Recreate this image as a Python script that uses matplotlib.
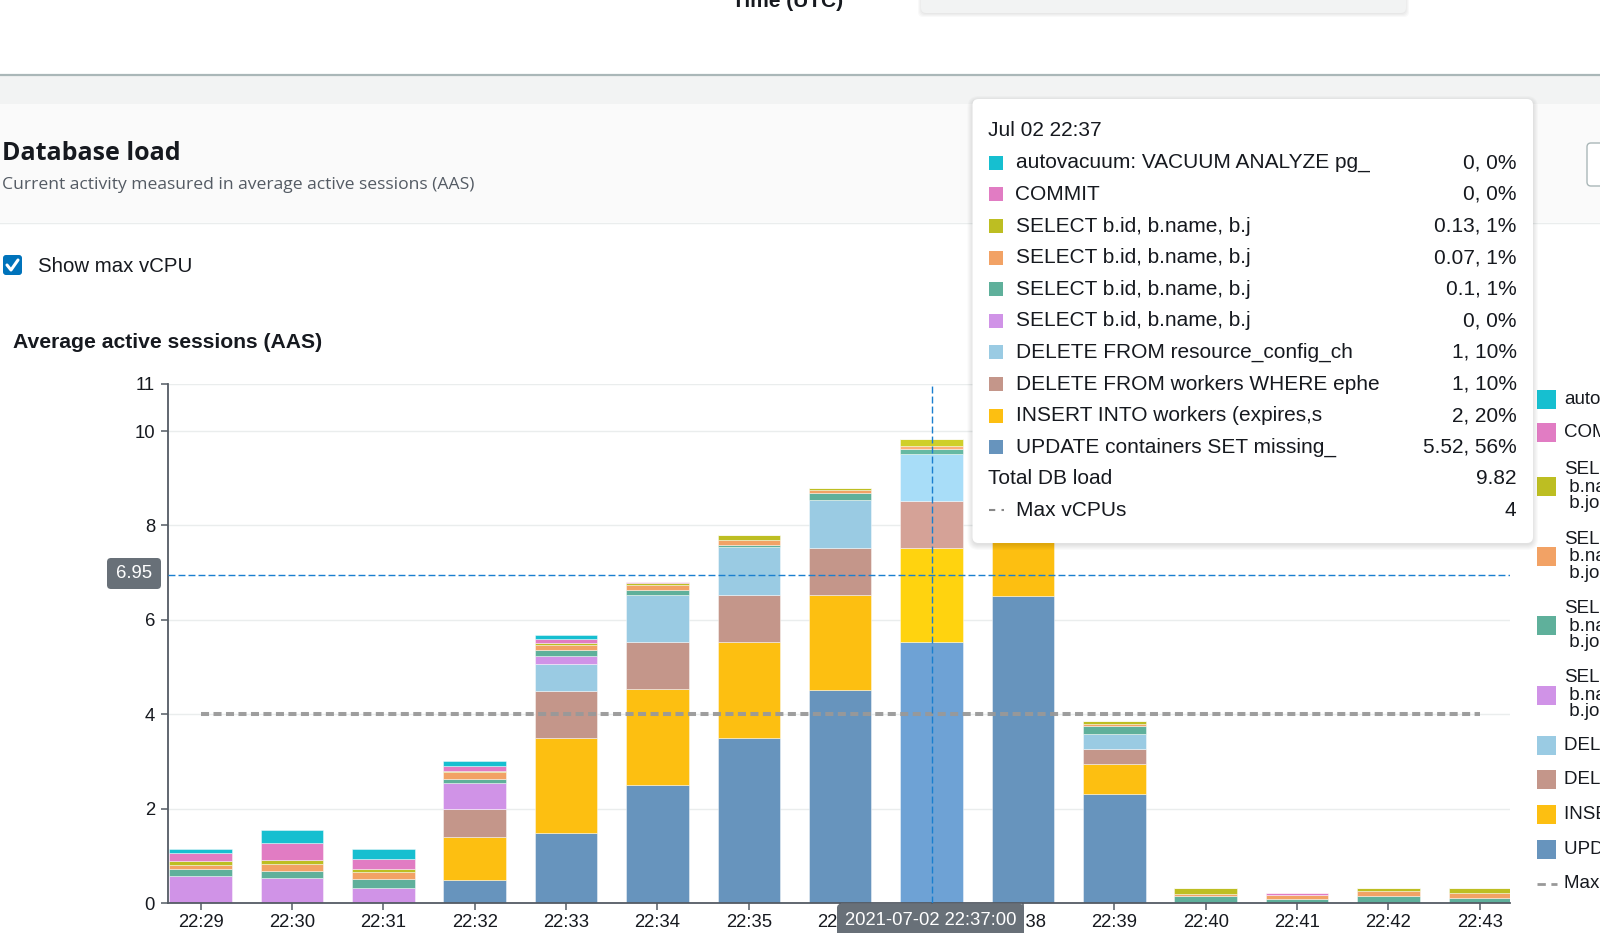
import numpy as np
import matplotlib.pyplot as plt
from matplotlib.patches import Rectangle, FancyBboxPatch

W, H = 1600, 933

times = ['22:29', '22:30', '22:31', '22:32', '22:33', '22:34', '22:35', '22:36',
         '22:37', '22:38', '22:39', '22:40', '22:41', '22:42', '22:43']

# stacked from the bottom up
update = [0, 0, 0, 0.49, 1.49, 2.51, 3.50, 4.52, 5.52, 6.50, 2.31, 0, 0, 0, 0]
insert = [0, 0, 0, 0.91, 2.01, 2.02, 2.03, 2.01, 2, 2.0, 0.64, 0, 0, 0, 0]
del_workers = [0, 0, 0, 0.60, 0.99, 0.99, 1.0, 1.0, 1, 1.0, 0.31, 0, 0, 0, 0]
del_resource = [0, 0, 0, 0, 0.57, 1.01, 1.01, 1.01, 1, 1.0, 0.33, 0, 0, 0, 0]
select4 = [0.57, 0.54, 0.31, 0.54, 0.18, 0, 0, 0, 0, 0, 0, 0, 0, 0, 0]
select3 = [0.15, 0.13, 0.19, 0.09, 0.12, 0.10, 0.05, 0.14, 0.1, 0.10, 0.17, 0.14, 0.08, 0.14, 0.10]
select2 = [0.085, 0.155, 0.155, 0.14, 0.10, 0.11, 0.11, 0.06, 0.07, 0.07, 0.04, 0.06, 0.08, 0.12, 0.11]
select1 = [0.09, 0.08, 0.056, 0.03, 0.04, 0.04, 0.09, 0.06, 0.13, 0.10, 0.06, 0.11, 0.02, 0.05, 0.10]
commit = [0.155, 0.36, 0.226, 0.10, 0.09, 0.02, 0.01, 0, 0, 0, 0, 0, 0.03, 0, 0]
autovac = [0.10, 0.28, 0.21, 0.10, 0.09, 0, 0, 0, 0, 0, 0, 0, 0, 0, 0]

series = [update, insert, del_workers, del_resource, select4, select3, select2, select1, commit, autovac]
names = ['UPDATE containers SET missing_', 'INSERT INTO workers (expires,s',
         'DELETE FROM workers WHERE ephe', 'DELETE FROM resource_config_ch',
         'SELECT b.id, b.name, b.j', 'SELECT b.id, b.name, b.j',
         'SELECT b.id, b.name, b.j', 'SELECT b.id, b.name, b.j',
         'COMMIT', 'autovacuum: VACUUM ANALYZE pg_']
legend_names = ['UPDATE containers', 'INSERT INTO workers', 'DELETE FROM workers',
                'DELETE FROM resource', 'SELECT\n b.name,\n b.join', 'SELECT\n b.name,\n b.join',
                'SELECT\n b.name,\n b.join', 'SELECT\n b.name,\n b.join', 'COMMIT', 'autovacuum']
colors = ['#6794bd', '#fdbf11', '#c4968a', '#9acbe3', '#d093e7', '#5fb09b',
          '#f2a265', '#bdbe22', '#e17cc3', '#16bfd0']
hl_colors = ['#6ea2d5', '#ffd30f', '#d5a297', '#a8ddf8', '#e0a3f5', '#66b9a3',
             '#fbaf7a', '#cfcf2a', '#f08ad2', '#20cfe0']
max_vcpu = 4
cursor_y = 6.95
sel = 8

SANS = 'Liberation Sans'
UI = 'Open Sans'
TIP = 15

fig = plt.figure(figsize=(W / 100, H / 100), dpi=100)

# page background (pixel coords)
bg = fig.add_axes([0, 0, 1, 1], zorder=0)
bg.set_xlim(0, W); bg.set_ylim(H, 0); bg.axis('off')
bg.add_patch(Rectangle((0, 76), W, 28, color='#f2f3f3', lw=0))
bg.add_patch(Rectangle((0, 104), W, 118, color='#fafafa', lw=0))
bg.plot([0, W], [74.5, 74.5], color='#aab7b8', lw=1.6)
bg.plot([0, W], [222.5, 222.5], color='#eaeded', lw=1)
for k in range(4):
    bg.add_patch(FancyBboxPatch((921 - k, -10), 485 + 2 * k, 24 + k, boxstyle='round,pad=0,rounding_size=5',
                                color='#000000', alpha=0.025, lw=0))
bg.add_patch(FancyBboxPatch((921, -10), 485, 23, boxstyle='round,pad=0,rounding_size=5',
                            color='#f2f3f3', lw=0))
bg.text(788, 7, 'Time (UTC)', ha='center', va='baseline', fontsize=15, fontweight='bold',
        family=SANS, color='#16191f')
bg.text(2, 153, 'Database load', ha='left', va='center', fontsize=18, fontweight='bold',
        family=UI, color='#16191f')
bg.text(2, 185, 'Current activity measured in average active sessions (AAS)', ha='left',
        va='center', fontsize=12.6, family=UI, color='#545b64')
bg.add_patch(FancyBboxPatch((1587, 143), 40, 43, boxstyle='round,pad=0,rounding_size=4',
                            facecolor='white', edgecolor='#aab7b8', lw=1))
bg.add_patch(FancyBboxPatch((3, 255), 19, 20, boxstyle='round,pad=0,rounding_size=3',
                            color='#0073bb', lw=0))
bg.plot([7, 11, 18], [265, 270, 260], color='white', lw=2.2, solid_capstyle='round')
bg.text(38, 266, 'Show max vCPU', ha='left', va='center', fontsize=14.7, family=SANS, color='#16191f')
bg.text(13, 342, 'Average active sessions (AAS)', ha='left', va='center', fontsize=15.2,
        fontweight='bold', family=SANS, color='#16191f')

# right legend, clipped by the page edge
leg_y = [849, 814.4, 779.7, 745, 695, 625.6, 556, 486.8, 432.7, 399]
for name, c, y in zip(legend_names, colors, leg_y):
    bg.add_patch(Rectangle((1537, y - 9.5), 19, 19, color=c, lw=0))
    bg.text(1564, y, name, ha='left', va='center', fontsize=13.5, family=SANS,
            color='#16191f', linespacing=1.0)
bg.plot([1537, 1557], [883.8, 883.8], color='#999999', lw=2, dashes=(3, 2))
bg.text(1564, 883.8, 'Max vCPUs', ha='left', va='center', fontsize=13.5, family=SANS, color='#16191f')

# chart
ax = fig.add_axes([168 / W, 30 / H, (1510 - 168) / W, 519.2 / H], zorder=1)
ax.set_facecolor('none')
x = np.arange(len(times))
bottom = np.zeros(len(times))
for s, c, hc in zip(series, colors, hl_colors):
    cols = [hc if j == sel else c for j in range(len(times))]
    ax.bar(x, s, width=0.684, bottom=bottom, color=cols, edgecolor=(1, 1, 1, 0.6), linewidth=0.5, zorder=2)
    bottom += np.array(s)
ax.set_xlim(-0.356, 14.33)
ax.set_ylim(0, 11)
ax.set_yticks([0, 2, 4, 6, 8, 10, 11])
ax.set_xticks(x, times)
ax.grid(axis='y', color='#eaeded', lw=1, zorder=0)
ax.set_axisbelow(True)
for sp in ['top', 'right']:
    ax.spines[sp].set_visible(False)
for sp in ['left', 'bottom']:
    ax.spines[sp].set_color('#545b64')
    ax.spines[sp].set_linewidth(1.3)
ax.tick_params(axis='both', length=5, width=1.1, color='#545b64', labelsize=13.3, labelcolor='#16191f')
ax.tick_params(axis='x', pad=3)
ax.tick_params(axis='y', pad=4.3)
for lab in ax.get_xticklabels() + ax.get_yticklabels():
    lab.set_family(SANS)

ax.plot([0, len(times) - 1], [max_vcpu, max_vcpu], color='#999999', lw=2.9, dashes=(2, 1.1),
        alpha=0.95, zorder=3)
ax.axhline(cursor_y, color='#1a7fcf', lw=1, dashes=(5, 2.2), zorder=4)
ax.axvline(sel, color='#1a7fcf', lw=1, dashes=(5, 2.2), zorder=4)

# overlay: cursor labels and tooltip
ov = fig.add_axes([0, 0, 1, 1], zorder=2)
ov.set_xlim(0, W); ov.set_ylim(H, 0); ov.axis('off')
ov.add_patch(FancyBboxPatch((107, 558), 54, 31, boxstyle='round,pad=0,rounding_size=4',
                            color='#687078', lw=0))
ov.text(134, 573.5, f'{cursor_y:.2f}', ha='center', va='center', fontsize=13.3, family=SANS, color='white')
ov.add_patch(FancyBboxPatch((837, 904), 187, 40, boxstyle='round,pad=0,rounding_size=4',
                            color='#687078', lw=0))
ov.text(930.5, 920.5, '2021-07-02 22:37:00', ha='center', va='center', fontsize=13.3, family=SANS, color='white')

tx0, ty0, tw, th = 972.5, 99, 560.5, 444
for k in range(6):
    ov.add_patch(FancyBboxPatch((tx0 - k, ty0 - k + 2), tw + 2 * k, th + 2 * k,
                                boxstyle='round,pad=0,rounding_size=%d' % (6 + k),
                                color='black', alpha=0.018, lw=0))
ov.add_patch(FancyBboxPatch((tx0, ty0), tw, th, boxstyle='round,pad=0,rounding_size=6',
                            color='white', lw=0))
total = sum(s[sel] for s in series)
ov.text(988, 131, 'Jul 02 ' + times[sel], ha='left', va='center', fontsize=TIP, family=SANS, color='#16191f')
row_y = 162.8
for s, c, name in list(zip(series, colors, names))[::-1]:
    v = s[sel]
    ov.add_patch(Rectangle((989, row_y - 7), 14, 14, color=c, lw=0))
    ov.text(1015.5, row_y, name, ha='left', va='center', fontsize=TIP, family=SANS, color='#16191f')
    ov.text(1516.5, row_y, f'{v:g}, {round(100 * v / total)}%', ha='right', va='center',
            fontsize=TIP, family=SANS, color='#16191f')
    row_y += 31.6
ov.text(988, row_y, 'Total DB load', ha='left', va='center', fontsize=TIP, family=SANS, color='#16191f')
ov.text(1516.5, row_y, f'{total:.2f}', ha='right', va='center', fontsize=TIP, family=SANS, color='#16191f')
row_y += 31.6
ov.plot([989, 1004], [row_y, row_y], color='#888888', lw=1.5, dashes=(3, 3))
ov.text(1015.5, row_y, 'Max vCPUs', ha='left', va='center', fontsize=TIP, family=SANS, color='#16191f')
ov.text(1516.5, row_y, f'{max_vcpu}', ha='right', va='center', fontsize=TIP, family=SANS, color='#16191f')

fig.savefig('out.png', dpi=100)
